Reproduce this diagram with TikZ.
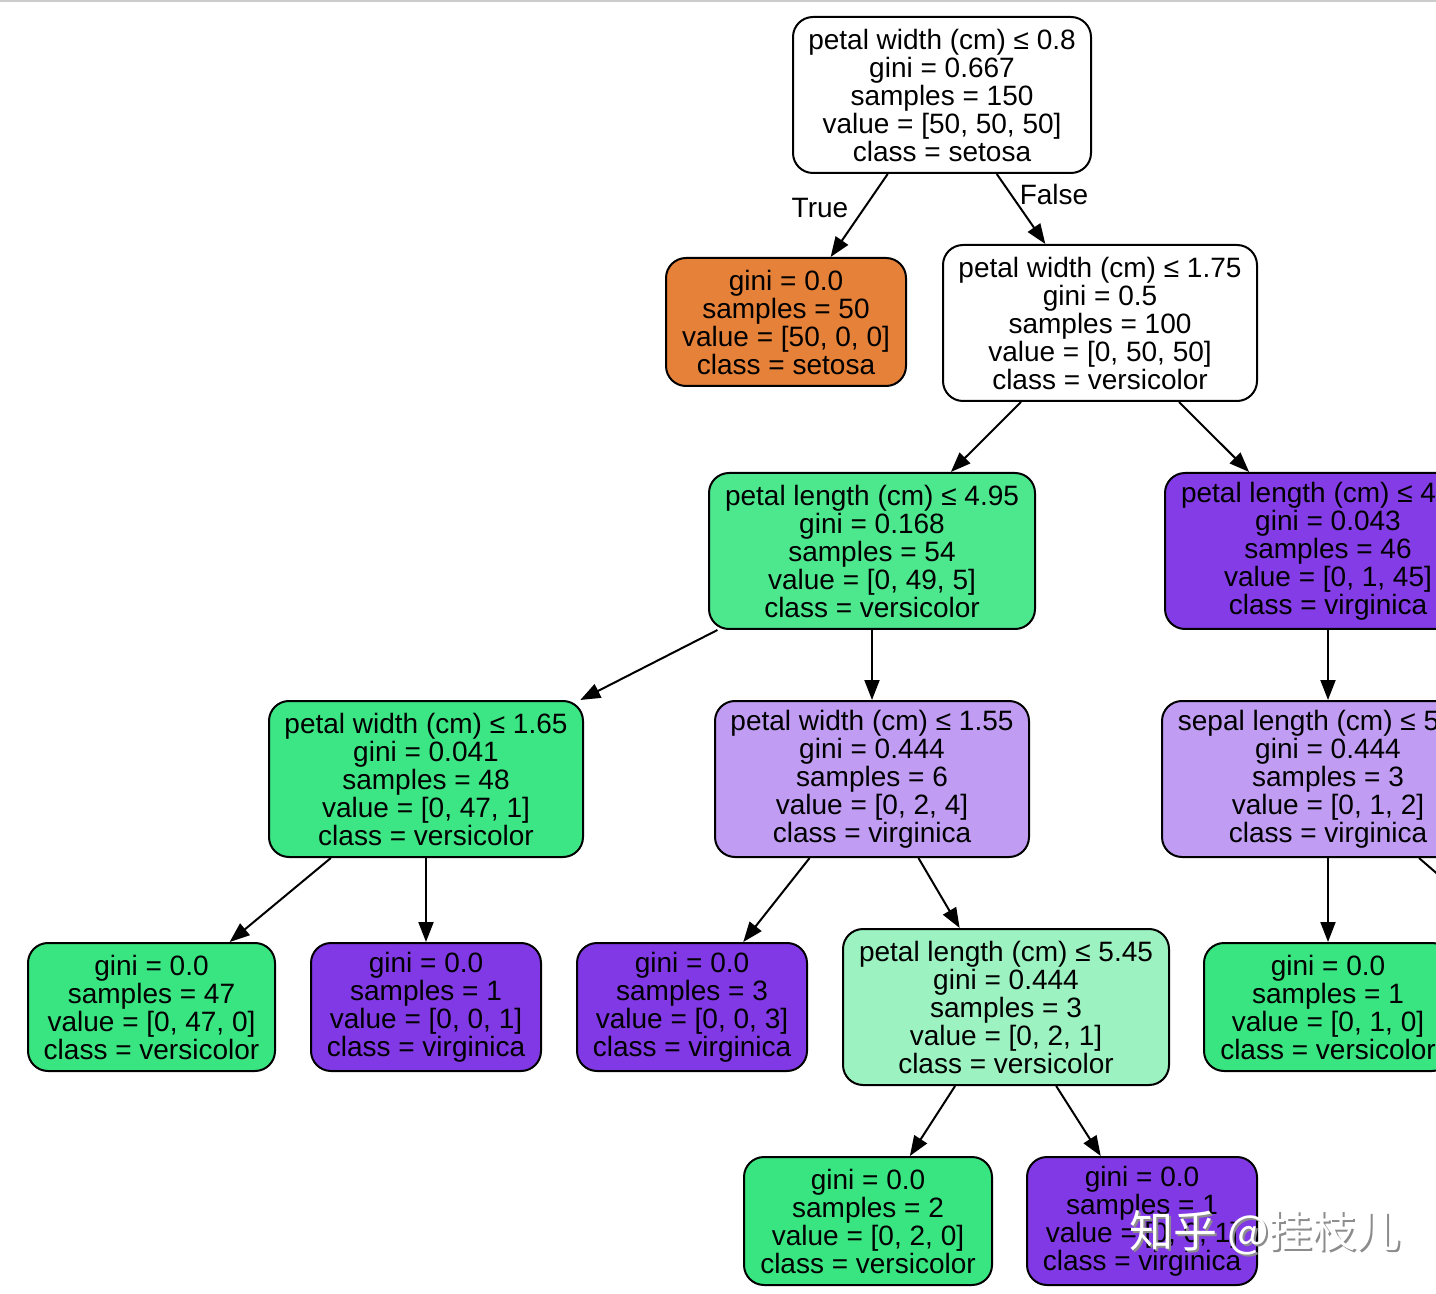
\documentclass[tikz,border=0pt]{standalone}
\usepackage{fontspec}
\setmainfont{Liberation Sans}
\newfontfamily\cjkfont{Noto Sans CJK SC}
\usetikzlibrary{arrows.meta}
\definecolor{cSet}{RGB}{229,129,57}
\definecolor{cVer}{RGB}{57,229,129}
\definecolor{cVir}{RGB}{129,57,229}
\definecolor{cNthree}{RGB}{77,232,142}
\definecolor{cNfive}{RGB}{61,230,132}
\definecolor{cNfour}{RGB}{132,61,230}
\definecolor{cVirLight}{RGB}{192,156,242}
\definecolor{cVerLight}{RGB}{156,242,192}
\begin{document}
\begin{tikzpicture}[x=0.5pt,y=-0.5pt,
  tn/.style={draw=black,line width=1pt,rounded corners=10pt,align=center,inner sep=0pt,
             font=\fontsize{14}{14}\selectfont},
  inner/.style={tn,minimum height=78pt},
  leaf/.style={tn,minimum height=64pt},
  lbl/.style={font=\fontsize{14}{14}\selectfont,inner sep=0pt},
  edge/.style={line width=1pt,-{Triangle[length=10pt,width=7.5pt]}}]
\useasboundingbox (0,0) rectangle (1436,1294);
\clip (0,0) rectangle (1436,1294);
\draw[black!20,line width=1pt] (0,1) -- (1436,1);

\node[inner,fill=white,minimum width=149pt] (root) at (942,95)
  {petal width (cm) ≤ 0.8\\gini = 0.667\\samples = 150\\value = [50, 50, 50]\\class = setosa};
\node[leaf,fill=cSet,minimum width=120pt] (setosa) at (786,322)
  {gini = 0.0\\samples = 50\\value = [50, 0, 0]\\class = setosa};
\node[inner,fill=white,minimum width=157pt] (n2) at (1100,323)
  {petal width (cm) ≤ 1.75\\gini = 0.5\\samples = 100\\value = [0, 50, 50]\\class = versicolor};
\node[inner,fill=cNthree,minimum width=163pt] (n3) at (872,551)
  {petal length (cm) ≤ 4.95\\gini = 0.168\\samples = 54\\value = [0, 49, 5]\\class = versicolor};
\node[inner,fill=cNfour,minimum width=163pt] (n4) at (1328,551)
  {petal length (cm) ≤ 4.85\\gini = 0.043\\samples = 46\\value = [0, 1, 45]\\class = virginica};
\node[inner,fill=cNfive,minimum width=157pt] (n5) at (426,779)
  {petal width (cm) ≤ 1.65\\gini = 0.041\\samples = 48\\value = [0, 47, 1]\\class = versicolor};
\node[inner,fill=cVirLight,minimum width=157pt] (n6) at (872,779)
  {petal width (cm) ≤ 1.55\\gini = 0.444\\samples = 6\\value = [0, 2, 4]\\class = virginica};
\node[inner,fill=cVirLight,minimum width=166pt] (n7) at (1328,779)
  {sepal length (cm) ≤ 5.95\\gini = 0.444\\samples = 3\\value = [0, 1, 2]\\class = virginica};
\node[leaf,fill=cVer,minimum width=123.5pt] (l1) at (151.5,1007)
  {gini = 0.0\\samples = 47\\value = [0, 47, 0]\\class = versicolor};
\node[leaf,fill=cVir,minimum width=115pt] (l2) at (426,1007)
  {gini = 0.0\\samples = 1\\value = [0, 0, 1]\\class = virginica};
\node[leaf,fill=cVir,minimum width=115pt] (l3) at (692,1007)
  {gini = 0.0\\samples = 3\\value = [0, 0, 3]\\class = virginica};
\node[inner,fill=cVerLight,minimum width=163pt] (n8) at (1006,1007)
  {petal length (cm) ≤ 5.45\\gini = 0.444\\samples = 3\\value = [0, 2, 1]\\class = versicolor};
\node[leaf,fill=cVer,minimum width=124pt] (l4) at (1328,1007)
  {gini = 0.0\\samples = 1\\value = [0, 1, 0]\\class = versicolor};
\node[leaf,fill=cVer,minimum width=124pt] (l5) at (868,1221)
  {gini = 0.0\\samples = 2\\value = [0, 2, 0]\\class = versicolor};
\node[leaf,fill=cVir,minimum width=115pt] (l6) at (1142,1221)
  {gini = 0.0\\samples = 1\\value = [0, 0, 1]\\class = virginica};
\coordinate (x7) at (1517,943);

\draw[edge] (root) -- (setosa);
\draw[edge] (root) -- (n2);
\draw[edge] (n2) -- (n3);
\draw[edge] (n2) -- (n4);
\draw[edge] (n3) -- (n5);
\draw[edge] (n3) -- (n6);
\draw[edge] (n4) -- (n7);
\draw[edge] (n5) -- (l1);
\draw[edge] (n5) -- (l2);
\draw[edge] (n6) -- (l3);
\draw[edge] (n6) -- (n8);
\draw[edge] (n7) -- (l4);
\draw[edge] (n7) -- (x7);
\draw[edge] (n8) -- (l5);
\draw[edge] (n8) -- (l6);

\node[lbl] (true) at (820,208) {True};
\node[lbl] (false) at (1054,194) {False};

\node[font=\cjkfont\fontsize{22}{22}\selectfont,text=black!45,inner sep=0pt] (wmshadow) at (1267,1235) {知乎 @挂枝儿};
\node[font=\cjkfont\fontsize{22}{22}\selectfont,text=white,inner sep=0pt] (wm) at (1265,1233) {知乎 @挂枝儿};
\end{tikzpicture}
\end{document}
